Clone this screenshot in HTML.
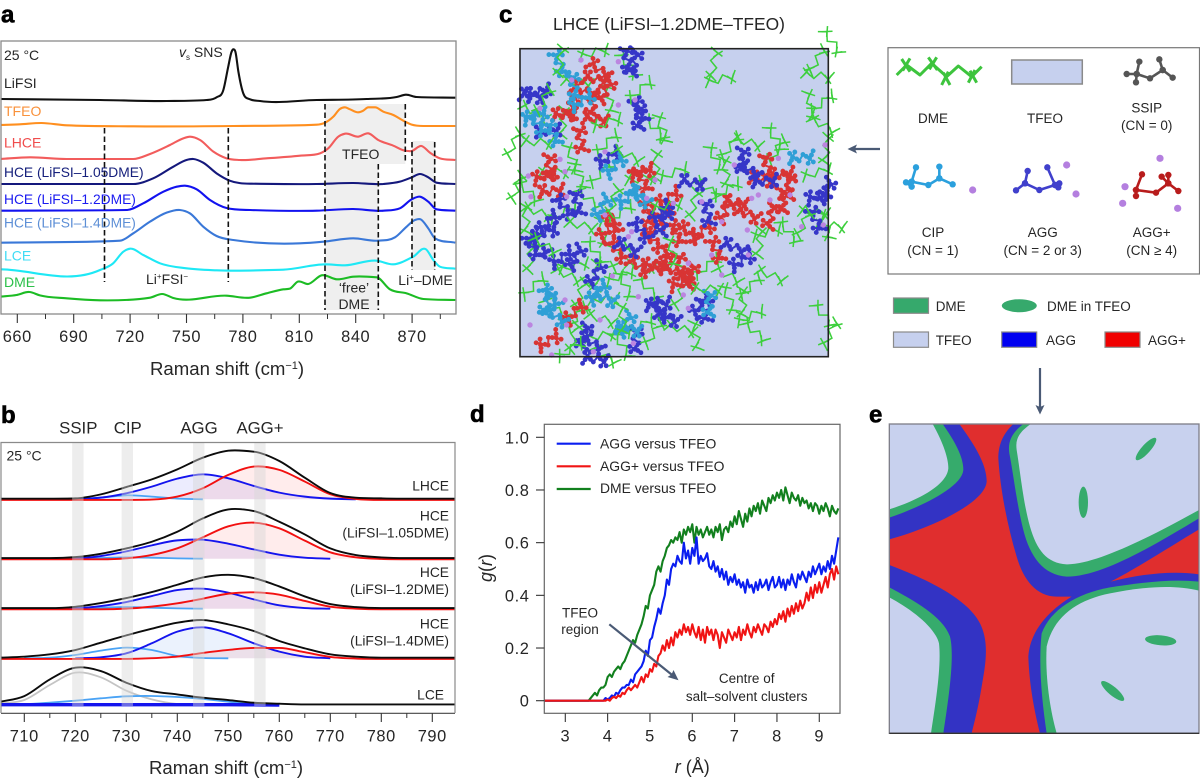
<!DOCTYPE html>
<html>
<head>
<meta charset="utf-8">
<title>LHCE Raman and g(r) figure</title>
<style>
html,body{margin:0;padding:0;background:#fff;}
svg{display:block;font-family:"Liberation Sans",sans-serif;}
text{fill:#262626;}
.tk{font-size:16.4px;letter-spacing:.6px;}
.lb{font-size:13.8px;}
.pl{font-size:24px;font-weight:bold;fill:#000;stroke:#000;stroke-width:.6px;}
</style>
</head>
<body>
<svg id="fig" width="1200" height="779" viewBox="0 0 1200 779" xmlns="http://www.w3.org/2000/svg">
<defs>
<clipPath id="clipA"><rect x="1" y="41" width="455" height="273"/></clipPath>
<clipPath id="clipB"><rect x="1" y="442" width="454" height="271"/></clipPath>
<clipPath id="clipD"><rect x="544" y="424" width="296" height="289"/></clipPath>
<clipPath id="clipE"><rect x="58" y="72" width="929" height="928"/></clipPath>
</defs>

<!-- Panel letters -->
<text class="pl" x="1" y="22.7">a</text>
<text class="pl" x="1" y="423">b</text>
<text class="pl" x="499" y="22.7">c</text>
<text class="pl" x="470" y="422">d</text>
<text class="pl" x="869" y="422.7">e</text>

<!-- PANEL A -->
<g id="panelA">
<rect x="325" y="104" width="80.3" height="60" fill="#efefef"/>
<rect x="325" y="164" width="53.5" height="146" fill="#efefef"/>
<rect x="412" y="141" width="23" height="129" fill="#efefef"/>
<g id="aTraces" clip-path="url(#clipA)"></g>
<g stroke="#111" stroke-width="1.6" stroke-dasharray="5.5 3" fill="none">
<line x1="104.5" y1="128" x2="104.5" y2="282"/>
<line x1="228.3" y1="128" x2="228.3" y2="282"/>
<line x1="325" y1="104" x2="325" y2="310"/>
<line x1="405.3" y1="104" x2="405.3" y2="163"/>
<line x1="378.3" y1="164" x2="378.3" y2="310"/>
<line x1="412" y1="142" x2="412" y2="270"/>
<line x1="434.7" y1="142" x2="434.7" y2="270"/>
</g>
<rect x="1" y="41" width="455" height="273" fill="none" stroke="#8a8a8a" stroke-width="1.3"/>
<g id="aTicks"></g>
<text x="4" y="60" font-size="14">25 °C</text>
<text x="4" y="88" font-size="14">LiFSI</text>
<text x="4" y="116" font-size="14" style="fill:#f9913a">TFEO</text>
<text x="4" y="147.7" font-size="14" style="fill:#f04c4c">LHCE</text>
<text x="4" y="177" font-size="13.8" style="fill:#16207c">HCE (LiFSI–1.05DME)</text>
<text x="4" y="204" font-size="13.8" style="fill:#1a1af0">HCE (LiFSI–1.2DME)</text>
<text x="4" y="227.7" font-size="13.8" style="fill:#5d8fd6">HCE (LiFSI–1.4DME)</text>
<text x="4" y="260.7" font-size="14" style="fill:#3fdcf5">LCE</text>
<text x="4" y="287" font-size="14" style="fill:#2cc04a">DME</text>
<text x="179" y="57" font-size="14"><tspan font-style="italic">v</tspan><tspan font-size="8" dy="3">s</tspan><tspan dy="-3"> SNS</tspan></text>
<text x="360.7" y="159" font-size="14" text-anchor="middle">TFEO</text>
<text x="146" y="284" font-size="14">Li<tspan font-size="8" dy="-5">+</tspan><tspan dy="5">FSI</tspan><tspan font-size="8" dy="-5">−</tspan></text>
<text x="354" y="292.7" font-size="14" text-anchor="middle">‘free’</text>
<text x="354" y="309" font-size="14" text-anchor="middle">DME</text>
<text x="398.3" y="285" font-size="14">Li<tspan font-size="8" dy="-5">+</tspan><tspan dy="5">–DME</tspan></text>
<text x="150" y="375" font-size="18.6">Raman shift (cm<tspan font-size="11" dy="-6">−1</tspan><tspan dy="6">)</tspan></text>
</g>

<!-- PANEL B -->
<g id="panelB">
<g id="bTraces" clip-path="url(#clipB)"></g>
<g id="bBands"></g>
<g id="bTicks"></g>
<path d="M1,713 L1,442.5 L455,442.5 L455,713" fill="none" stroke="#8a8a8a" stroke-width="1.2"/>
<text x="78.3" y="433.3" font-size="16.8" text-anchor="middle">SSIP</text>
<text x="127.7" y="433.3" font-size="16.8" text-anchor="middle">CIP</text>
<text x="199" y="433.3" font-size="16.8" text-anchor="middle">AGG</text>
<text x="260" y="433.3" font-size="16.8" text-anchor="middle">AGG+</text>
<text x="6.5" y="460.7" font-size="14">25 °C</text>
<g text-anchor="end" class="lb">
<text class="lb" x="449" y="490.7">LHCE</text>
<text class="lb" x="449" y="520.7">HCE</text>
<text class="lb" x="449" y="537.7">(LiFSI–1.05DME)</text>
<text class="lb" x="449" y="577">HCE</text>
<text class="lb" x="449" y="594">(LiFSI–1.2DME)</text>
<text class="lb" x="449" y="628.7">HCE</text>
<text class="lb" x="449" y="645.7">(LiFSI–1.4DME)</text>
<text class="lb" x="444" y="699.3">LCE</text>
</g>
<text x="149" y="774" font-size="18.6">Raman shift (cm<tspan font-size="11" dy="-6">−1</tspan><tspan dy="6">)</tspan></text>
</g>

<!-- PANEL C -->
<g id="panelC">
<text x="553" y="30" font-size="17.4">LHCE (LiFSI–1.2DME–TFEO)</text>
<rect x="520" y="48.7" width="308.3" height="308" fill="#c6d0ee"/>
<g id="cMols"></g>
<rect x="520" y="48.7" width="308.3" height="308" fill="none" stroke="#222" stroke-width="1.6"/>
<g stroke="#4a5a75" fill="#4a5a75">
<line x1="852" y1="149" x2="880" y2="149" stroke-width="2.2"/>
<path d="M847.5,149 L857,144.5 L855,149 L857,153.5 Z" stroke="none"/>
</g>
<rect x="888" y="47.7" width="311.5" height="226.3" fill="#fff" stroke="#777" stroke-width="1.2"/>
<rect x="1011.7" y="60" width="70.6" height="24" fill="#c6d0ee" stroke="#8a8a8a" stroke-width="1.5"/>
<g id="legendMols"></g>
<g text-anchor="middle" font-size="13.5">
<text x="933" y="123">DME</text>
<text x="1045" y="123">TFEO</text>
<text x="1146.7" y="112.7">SSIP</text>
<text x="1146.7" y="130">(CN = 0)</text>
<text x="933" y="237">CIP</text>
<text x="933" y="255">(CN = 1)</text>
<text x="1042.7" y="237">AGG</text>
<text x="1042.7" y="255">(CN = 2 or 3)</text>
<text x="1151.7" y="237">AGG+</text>
<text x="1151.7" y="255">(CN ≥ 4)</text>
</g>
<g font-size="13.5">
<rect x="893.5" y="298" width="35" height="15.3" fill="#36a96c" stroke="#8a8a8a" stroke-width="1.2"/>
<text x="935.7" y="311">DME</text>
<ellipse cx="1019.3" cy="305.7" rx="17.5" ry="6.5" fill="#36a96c"/>
<text x="1047" y="311">DME in TFEO</text>
<rect x="893.5" y="332" width="35" height="15.3" fill="#c6d0ee" stroke="#8a8a8a" stroke-width="1.2"/>
<text x="935.7" y="345">TFEO</text>
<rect x="1001.7" y="332" width="35" height="15.3" fill="#0000f0" stroke="#8a8a8a" stroke-width="1.2"/>
<text x="1046" y="345">AGG</text>
<rect x="1105" y="332" width="35" height="15.3" fill="#f00000" stroke="#8a8a8a" stroke-width="1.2"/>
<text x="1148" y="345">AGG+</text>
</g>
<g stroke="#4a5a75" fill="#4a5a75">
<line x1="1040" y1="368" x2="1040" y2="408" stroke-width="2.2"/>
<path d="M1040,414.5 L1035.5,405 L1040,407 L1044.5,405 Z" stroke="none"/>
</g>
</g>

<!-- PANEL D -->
<g id="panelD">
<g id="dTraces" clip-path="url(#clipD)"></g>
<rect x="544.3" y="424.3" width="295.7" height="289" fill="none" stroke="#666" stroke-width="1.2"/>
<g id="dTicks"></g>
<text transform="translate(492,568) rotate(-90)" font-size="18" text-anchor="middle"><tspan font-style="italic">g</tspan>(<tspan font-style="italic">r</tspan>)</text>
<text x="692.3" y="773" font-size="18" text-anchor="middle"><tspan font-style="italic">r</tspan> (Å)</text>
<g font-size="13.9">
<line x1="556.7" x2="590.7" y1="443.7" y2="443.7" stroke="#0a1ef0" stroke-width="2.2"/>
<text x="600" y="448.3">AGG versus TFEO</text>
<line x1="556.7" x2="590.7" y1="466.3" y2="466.3" stroke="#f01414" stroke-width="2.2"/>
<text x="600" y="471">AGG+ versus TFEO</text>
<line x1="556.7" x2="590.7" y1="489" y2="489" stroke="#12801e" stroke-width="2.2"/>
<text x="600" y="493">DME versus TFEO</text>
</g>
<text x="580" y="617.7" font-size="13.5" text-anchor="middle">TFEO</text>
<text x="580" y="634" font-size="13.5" text-anchor="middle">region</text>
<text x="746.7" y="683" font-size="13.5" text-anchor="middle">Centre of</text>
<text x="746.7" y="701" font-size="13.5" text-anchor="middle">salt–solvent clusters</text>
<g>
<line x1="609.3" y1="624.3" x2="674" y2="676.5" stroke="#4a5a75" stroke-width="2.2"/>
<path d="M678.5,680.3 L667.5,677 L671.5,674.5 L673.5,670 Z" fill="#4a5a75"/>
</g>
</g>

<!-- PANEL E -->
<g id="panelE" transform="translate(870,400) scale(0.33333)">
<g clip-path="url(#clipE)">
<rect x="58" y="72" width="929" height="928" fill="#e02e2e"/>
<path fill="#3333c4" d="M58,72 L268,72 C310,130 350,190 350,245 C345,310 180,385 58,418 Z"/>
<path fill="#36ab6c" d="M58,72 L218,72 C255,125 280,170 280,210 C275,265 140,325 58,353 Z"/>
<path fill="#c8d1ee" d="M58,72 L188,72 C215,120 235,170 235,205 C230,260 130,305 58,328 Z"/>
<path fill="#3333c4" d="M430,72 C395,105 385,140 385,175 C390,260 410,370 440,470 C460,540 500,590 560,590 L605,590 C540,630 480,690 475,770 C478,860 495,940 510,1000 L987,1000 L987,523 C900,510 800,525 722,545 C800,505 900,440 987,388 L987,72 Z"/>
<path fill="#36ab6c" d="M460,72 L987,72 L987,355 C860,430 700,530 590,530 C520,525 480,470 460,390 C440,310 430,220 418,160 C412,120 430,95 460,72 Z"/>
<path fill="#c8d1ee" d="M482,72 L987,72 L987,330 C860,400 680,495 590,493 C530,490 500,450 480,380 C460,310 450,210 440,150 C435,115 450,95 482,72 Z"/>
<path fill="#36ab6c" d="M987,545 C900,535 800,550 720,562 C620,580 540,630 515,700 C505,790 515,900 530,1000 L987,1000 Z"/>
<path fill="#c8d1ee" d="M987,572 C900,550 800,565 720,580 C620,600 550,650 530,740 C525,830 540,930 560,1000 L987,1000 Z"/>
<path fill="#3333c4" d="M58,495 C150,530 290,590 330,670 C360,730 345,800 335,860 C325,920 315,960 305,1000 L58,1000 Z"/>
<path fill="#36ab6c" d="M58,562 C130,600 220,650 240,710 C255,770 235,900 220,1000 L58,1000 Z"/>
<path fill="#c8d1ee" d="M58,592 C120,625 195,680 207,730 C215,800 195,920 183,1000 L58,1000 Z"/>
<ellipse cx="828" cy="147" rx="44" ry="13" transform="rotate(-48 828 147)" fill="#36ab6c"/>
<ellipse cx="640" cy="307" rx="14" ry="47" fill="#36ab6c"/>
<ellipse cx="872" cy="721" rx="47" ry="15" transform="rotate(5 872 721)" fill="#36ab6c"/>
<ellipse cx="728" cy="873" rx="44" ry="13" transform="rotate(40 728 873)" fill="#36ab6c"/>
</g>
<rect x="58" y="72" width="929" height="928" fill="none" stroke="#7f7f8a" stroke-width="4"/>
<line x1="58" y1="1000" x2="987" y2="1000" stroke="#333" stroke-width="4"/>
</g>

<script>
/* ---------- Panel a data: wavenumber (cm-1) and stacked intensity (a.u.) ---------- */
const aMajorTicks = [660,690,720,750,780,810,840,870];
const aMinorTicks = [675,705,735,765,795,825,855,885];

const lifsiShift = [650.8,704,739.4,760.7,766,769.6,772.2,774,774.9,776,777.6,780.2,783.8,789.1,819.2,845.8,861.8,866.7,872.4,893];
const lifsiValues = [645,642,639,642,650,672,742,787,794,787,727,662,644,639,642,645,651,658,651,649];

const tfeoShift = [650.8,661.4,672.9,686.2,721.7,774.9,819.2,823.7,828.1,831.6,834.3,837,841.4,844,846.7,850.3,854.7,860,865.3,869.8,876,893];
const tfeoValues = [567,569,573,566,563,564,568,574,592,615,620,614,605,610,620,620,607,597,580,568,564,564];

const lhceShift = [650.8,666.7,686.2,721.7,730.6,741.2,748.3,751.8,757.2,764.3,771.3,778.4,792.6,810.4,821,825.4,830.7,834.3,841.4,846.7,852,860,866.2,869.8,875,879.5,884.8,893];
const lhceValues = [465,470,465,465,480,507,527,532,522,487,467,462,467,475,482,497,532,541,532,542,522,505,490,489,504,484,467,462];

const hce105Shift = [650.8,721.7,732.3,743,750,753.6,758.9,766,773,783.8,819.2,838.7,854.7,863.5,869.8,874.2,878.6,883,893];
const hce105Values = [390,390,407,442,462,465,454,422,400,391,390,393,390,397,410,420,410,394,390];

const hce12Shift = [650.8,718.2,727,737.7,744.8,749.2,755.4,762.5,771.3,783.8,819.2,838.7,854.7,863.5,869.8,874.2,878.6,883,893];
const hce12Values = [310,312,332,367,382,385,374,342,318,312,310,315,310,317,344,352,337,314,310];

const hce14Shift = [650.8,714.6,721.7,730.6,739.4,746.5,751.8,758.9,766,774.9,810.4,822.8,838.7,852,860.9,867.1,871.5,874.5,878.6,882.2,893];
const hce14Values = [214,220,242,277,304,312,302,262,234,222,212,217,227,220,230,262,282,284,257,227,214];

const lceShift = [650.8,704,711,716.4,720,727,735.9,750,766,801.5,823.7,834.3,851.1,860,870.6,877.4,881.3,884.8,893];
const lceValues = [134,132,152,187,196,177,152,137,131,133,149,146,160,149,172,194,162,142,136];

const dmeShift = [650.8,659.6,666.4,672,686.2,704,730.6,737.1,743,771.3,783.8,792.6,801.5,805,809.1,814.8,821.9,829.9,838.7,851.1,858.2,867.1,876,893];
const dmeValues = [52,57,66,56,47,41,49,60,48,55,49,62,74,76,97,90,116,104,112,110,74,62,45,42];

/* ---------- Panel b data: peak heights (a.u.) per wavenumber ---------- */
const bWave = [705,710,715,720,725,730,735,740,745,750,755,760,765,770,775,780,785,790,795];
const bMajorTicks = [710,720,730,740,750,760,770,780,790];
const bMinorTicks = [715,725,735,745,755,765,775,785];
const bSpeciesPositions = [720.5,730.2,744.2,756.2];

const lhceTotal = [0,0,0,1,13,35,58,88,123,144,141,113,63,17,3,1,0,0,0];
const lhceCip = [0,0,0,1,5,12,8,2,0,0,0,0,0,0,0,0,0,0,0];
const lhceAgg = [0,0,0,1,5,18,38,62,75,63,40,20,8,2,0,0,0,0,0];
const lhceAggPlus = [0,0,0,0,0,0,1,10,35,75,100,90,55,17,3,0,0,0,0];

const hce105Total = [0,0,0,3,13,29,49,79,119,146,141,109,71,29,9,2,0,0,0];
const hce105Cip = [0,0,0,0,2,4,3,1,0,0,0,0,0,0,0,0,0,0,0];
const hce105Agg = [0,0,0,1,8,22,40,55,57,45,28,12,3,0,0,0,0,0,0];
const hce105AggPlus = [0,0,0,0,0,3,13,33,66,99,110,93,56,21,6,1,0,0,0];

const hce12Total = [0,0,0,4,15,30,48,70,92,100,90,65,35,12,3,0,0,0,0];
const hce12Cip = [0,0,0,1,3,5,3,1,0,0,0,0,0,0,0,0,0,0,0];
const hce12Agg = [0,0,0,1,8,20,38,56,60,48,28,10,2,0,0,0,0,0,0];
const hce12AggPlus = [0,0,0,0,0,2,8,18,32,47,51,44,25,8,2,0,0,0,0];

const hce14Total = [0,3,10,23,45,67,87,105,113,100,80,50,28,10,3,0,0,0,0];
const hce14Cip = [0,0,2,10,23,32,25,7,1,0,0,0,0,0,0,0,0,0,0];
const hce14Agg = [0,0,0,0,3,15,45,80,93,75,45,20,5,0,0,0,0,0,0];
const hce14AggPlus = [0,0,0,0,0,0,2,7,18,27,33,33,20,6,1,0,0,0,0];

const lceTotal = [7,25,75,110,100,65,40,30,20,13,5,2,0,0,0,0,0,0,0];
const lceSsip = [4,15,60,97,83,43,17,3,0,0,0,0,0,0,0,0,0,0,0];
const lceCip = [0,2,7,13,20,26,27,24,18,10,3,0,0,0,0,0,0,0,0];
const lceAgg = [1,1,1,1,1,1,1,1,1,1,0.5,0,0,0,0,0,0,0,0];
const lceAggPlus = [0,0,0,0,0,0,0,0,0,0,0,0,0,0,0,0,0,0,0];

/* ---------- Panel d data: g(r), r = 3.5 to 9.45 in 0.05 steps ---------- */
const dXTicks = [3,4,5,6,7,8,9];
const dYTicks = [0,0.2,0.4,0.6,0.8,1.0];
const dYLabels = ['0','0.2','0.4','0.6','0.8','1.0'];

const gDme = [
0,0,.01,.02,.03,.02,.04,.05,.05,.06,
.09,.10,.09,.11,.12,.13,.12,.14,.15,.17,
.19,.21,.23,.22,.25,.27,.29,.32,.36,.35,
.40,.42,.44,.49,.51,.49,.53,.55,.58,.59,
.61,.60,.62,.61,.64,.60,.65,.63,.66,.64,
.67,.60,.66,.63,.65,.62,.64,.66,.63,.65,
.62,.66,.64,.67,.61,.65,.66,.64,.68,.66,
.70,.67,.72,.69,.66,.71,.68,.73,.70,.74,
.72,.75,.71,.76,.74,.72,.77,.75,.78,.76,
.79,.77,.80,.76,.81,.78,.75,.79,.77,.76,
.78,.74,.77,.75,.76,.73,.75,.72,.75,.74,
.71,.74,.72,.75,.73,.70,.74,.72,.71,.73];

const gAgg = [
0,0,0,0,0,0,0,0,0,.01,
.005,.01,.02,.015,.03,.025,.04,.05,.05,.06,
.06,.08,.07,.10,.11,.12,.13,.15,.19,.17,
.23,.24,.28,.31,.35,.33,.37,.40,.46,.44,
.50,.52,.51,.55,.53,.52,.60,.54,.57,.52,
.58,.55,.62,.52,.55,.53,.54,.56,.51,.50,
.53,.49,.51,.47,.50,.46,.49,.44,.47,.45,
.48,.44,.46,.43,.45,.41,.46,.43,.44,.41,
.45,.42,.46,.43,.44,.46,.42,.45,.47,.43,
.44,.47,.43,.46,.42,.46,.44,.48,.45,.43,
.48,.46,.49,.47,.45,.49,.47,.51,.48,.50,
.52,.48,.51,.49,.53,.50,.55,.52,.57,.62];

const gAggPlus = [
0,0,0,0,0,0,0,0,0,0,
.005,0,.01,.015,.01,.02,.015,.03,.025,.04,
.05,.04,.05,.06,.05,.07,.09,.07,.10,.09,
.12,.11,.14,.13,.17,.18,.21,.19,.23,.20,
.24,.21,.26,.24,.27,.25,.29,.26,.28,.25,
.29,.26,.24,.28,.23,.27,.22,.28,.25,.27,
.23,.27,.25,.20,.26,.24,.22,.27,.25,.23,
.26,.24,.28,.23,.27,.25,.29,.26,.24,.28,
.26,.29,.27,.25,.29,.28,.26,.30,.28,.31,
.29,.33,.31,.34,.30,.35,.32,.36,.33,.37,
.34,.38,.35,.37,.41,.38,.43,.39,.44,.41,
.45,.41,.44,.47,.43,.48,.50,.46,.51,.48];

/* ---------- Helpers and axis functions ---------- */
const NS = 'http://www.w3.org/2000/svg';
function make(tag, parent, attrs, txt) {
  const n = document.createElementNS(NS, tag);
  for (const k in attrs) n.setAttribute(k, attrs[k]);
  if (txt !== undefined) n.textContent = txt;
  parent.appendChild(n);
  return n;
}
const xA = v => 17.3 + (v - 660) * 1.88;
const yA = a => 314 - a / 3;
const xB = v => 24.3 + (v - 710) * 5.1;
const xD = r => 565.3 + (r - 3) * 42.33;
const yD = g => 700.7 - g * 263.4;

/* rounded cubic through the read points: parabolic tangents, flat beside flat runs,
   limited on monotone stretches so that steep flanks do not ring */
function spline(pts) {
  const n = pts.length;
  const s = [], m = [];
  for (let i = 0; i < n - 1; i++) s[i] = (pts[i + 1][1] - pts[i][1]) / (pts[i + 1][0] - pts[i][0]);
  m[0] = s[0];
  m[n - 1] = s[n - 2];
  for (let i = 1; i < n - 1; i++) {
    if (s[i - 1] === 0 || s[i] === 0) { m[i] = 0; continue; }
    const h0 = pts[i][0] - pts[i - 1][0], h1 = pts[i + 1][0] - pts[i][0];
    let t = (h1 * s[i - 1] + h0 * s[i]) / (h0 + h1);
    if (s[i - 1] * s[i] > 0) {
      const lim = 3 * Math.min(Math.abs(s[i - 1]), Math.abs(s[i]));
      if (Math.abs(t) > lim) t = Math.sign(t) * lim;
    }
    m[i] = t;
  }
  let d = 'M' + pts[0][0].toFixed(2) + ',' + pts[0][1].toFixed(2);
  for (let i = 0; i < n - 1; i++) {
    const h = (pts[i + 1][0] - pts[i][0]) / 3;
    d += ' C' + (pts[i][0] + h).toFixed(2) + ',' + (pts[i][1] + m[i] * h).toFixed(2) + ' ' + (pts[i + 1][0] - h).toFixed(2) + ',' + (pts[i + 1][1] - m[i + 1] * h).toFixed(2) + ' ' + pts[i + 1][0].toFixed(2) + ',' + pts[i + 1][1].toFixed(2);
  }
  return d;
}

/* ---------- Draw panel a ---------- */
const aLayer = document.getElementById('aTraces');
const aSeries = [
  ['lifsi-trace', lifsiShift, lifsiValues, '#111111'],
  ['tfeo-trace', tfeoShift, tfeoValues, '#ff8f1f'],
  ['lhce-trace', lhceShift, lhceValues, '#f25c5c'],
  ['hce-105-trace', hce105Shift, hce105Values, '#14187c'],
  ['hce-12-trace', hce12Shift, hce12Values, '#1212f0'],
  ['hce-14-trace', hce14Shift, hce14Values, '#3a78d8'],
  ['lce-trace', lceShift, lceValues, '#1ee8f5'],
  ['dme-trace', dmeShift, dmeValues, '#1cbc24']
];
aSeries.forEach(s => {
  const pts = s[1].map((w, i) => [xA(w), yA(s[2][i])]);
  const p = make('path', aLayer, {d: spline(pts), fill: 'none', stroke: s[3], 'stroke-width': 2.1, 'stroke-linejoin': 'round'});
  
  
});
const aAxis = document.getElementById('aTicks');
aMajorTicks.forEach(t => {
  const tick = make('line', aAxis, {x1: xA(t), x2: xA(t), y1: 314, y2: 323, stroke: '#333', 'stroke-width': 1.1});
  
  
  const lab = make('text', aAxis, {x: xA(t), y: 342, 'text-anchor': 'middle', 'class': 'tk'}, String(t));
  
  
});
aMinorTicks.forEach(t => {
  const tick = make('line', aAxis, {x1: xA(t), x2: xA(t), y1: 314, y2: 319, stroke: '#333', 'stroke-width': 1});
  
  
});

/* ---------- Draw panel b ---------- */
const bLayer = document.getElementById('bTraces');
const bRowBase = [499.3, 558.7, 608.7, 658.3, 705];
const bRows = [
  {name: 'lhce', total: lhceTotal, cip: lhceCip, agg: lhceAgg, plus: lhceAggPlus},
  {name: 'hce-105', total: hce105Total, cip: hce105Cip, agg: hce105Agg, plus: hce105AggPlus},
  {name: 'hce-12', total: hce12Total, cip: hce12Cip, agg: hce12Agg, plus: hce12AggPlus},
  {name: 'hce-14', total: hce14Total, cip: hce14Cip, agg: hce14Agg, plus: hce14AggPlus},
  {name: 'lce', total: lceTotal, cip: lceCip, agg: lceAgg, plus: lceAggPlus, ssip: lceSsip}
];
bRows.forEach((row, r) => {
  const base = bRowBase[r];
  const yB = a => base - a / 3;
  const toPts = arr => bWave.map((w, i) => [xB(w), yB(arr[i])]);
  /* only the non-zero stretch of a component is stroked, so it does not paint the baseline */
  const nonZero = arr => {
    let a = 0, b = arr.length - 1;
    while (a < b && arr[a + 1] === 0) a++;
    while (b > a && arr[b - 1] === 0) b--;
    return toPts(arr).slice(a, b + 1);
  };
  const g = make('g', bLayer, {});
  
  
  const close = 'L' + xB(795) + ',' + base + ' L' + xB(705) + ',' + base + ' Z';
  const fa = make('path', g, {d: spline(toPts(row.agg)) + close, fill: row.name === 'hce-14' ? 'rgba(60,130,240,.10)' : 'rgba(40,40,240,.09)', stroke: 'none'});
  
  
  const fp = make('path', g, {d: spline(toPts(row.plus)) + close, fill: 'rgba(250,40,40,.09)', stroke: 'none'});
  
  
  if (row.ssip) {
    const ss = make('path', g, {d: spline(nonZero(row.ssip)), fill: 'none', stroke: '#c4c4c4', 'stroke-width': 1.8});
    
    
  }
  const cp = make('path', g, {d: spline(nonZero(row.cip)), fill: 'none', stroke: '#4aa3f5', 'stroke-width': 1.8});
  
  
  const ag = make('path', g, {d: spline(nonZero(row.agg)), fill: 'none', stroke: '#1414ee', 'stroke-width': row.name === 'lce' ? 3.4 : 1.9});
  
  
  const ap = make('path', g, {d: spline(toPts(row.plus)), fill: 'none', stroke: '#f21010', 'stroke-width': 1.9, opacity: row.name === 'lce' ? 0 : 1, transform: 'translate(0,.6)'});
  
  
  const tot = make('path', g, {d: spline(toPts(row.total)), fill: 'none', stroke: '#0c0c0c', 'stroke-width': 1.9, transform: 'translate(0,-.6)'});
  
  
});
const bandLayer = document.getElementById('bBands');
bSpeciesPositions.forEach(v => {
  const b = make('rect', bandLayer, {x: xB(v) - 5.7, y: 443, width: 11.4, height: 263, fill: 'rgba(215,215,215,.45)'});
  
  
});
const bAxis = document.getElementById('bTicks');
const bAxisLine = make('line', bAxis, {x1: 1, x2: 455, y1: 713.3, y2: 713.3, stroke: '#444', 'stroke-width': 1.2});


bMajorTicks.forEach(t => {
  const tick = make('line', bAxis, {x1: xB(t), x2: xB(t), y1: 713.3, y2: 722, stroke: '#333', 'stroke-width': 1.1});
  
  
  const lab = make('text', bAxis, {x: xB(t), y: 741.7, 'text-anchor': 'middle', 'class': 'tk'}, String(t));
  
  
});
bMinorTicks.forEach(t => {
  const tick = make('line', bAxis, {x1: xB(t), x2: xB(t), y1: 713.3, y2: 718, stroke: '#333', 'stroke-width': 1});
  
  
});

/* ---------- Draw panel d ---------- */
const dLayer = document.getElementById('dTraces');
const rValues = gDme.map((_, i) => 3.5 + i * 0.05);
[['dme-rdf-line', gDme, '#12801e'], ['agg-rdf-line', gAgg, '#0a1ef0'], ['aggplus-rdf-line', gAggPlus, '#f01414']].forEach(s => {
  let d = 'M' + xD(2.5).toFixed(2) + ',' + yD(0).toFixed(2);
  s[1].forEach((g, i) => { d += ' L' + xD(rValues[i]).toFixed(2) + ',' + yD(g).toFixed(2); });
  const p = make('path', dLayer, {d: d, fill: 'none', stroke: s[2], 'stroke-width': 2.1, 'stroke-linejoin': 'round'});
  
  
});
const dAxis = document.getElementById('dTicks');
dXTicks.forEach(t => {
  const tick = make('line', dAxis, {x1: xD(t), x2: xD(t), y1: 713.3, y2: 722, stroke: '#333', 'stroke-width': 1.1});
  
  
  const lab = make('text', dAxis, {x: xD(t), y: 741.7, 'text-anchor': 'middle', 'class': 'tk'}, String(t));
  
  
});
dYTicks.forEach((t, i) => {
  const tick = make('line', dAxis, {x1: 536, x2: 544.3, y1: yD(t), y2: yD(t), stroke: '#333', 'stroke-width': 1.1});
  
  
  const lab = make('text', dAxis, {x: 529.5, y: yD(t) + 6, 'text-anchor': 'end', 'class': 'tk'}, dYLabels[i]);
  
  
});

/* ---------- Panel c molecular clutter (illustration, not chart data) ---------- */
const molLayer = document.getElementById('cMols');
const greenSites = [[200,180],[300,160],[400,200],[150,300],[250,250],[340,300],[440,270],[120,340],[200,370],[340,370],[480,390],[60,430],[130,430],[230,480],[340,430],[400,470],[480,500],[540,520],[100,580],[70,560],[180,520],[250,530],[320,520],[130,640],[90,660],[210,640],[280,600],[360,600],[440,540],[660,480],[710,440],[760,430],[690,520],[700,570],[640,570],[600,610],[520,620],[840,420],[850,450],[260,680],[320,700],[380,640],[150,740],[110,770],[240,800],[300,760],[380,770],[440,800],[530,760],[640,800],[700,830],[790,730],[820,700],[880,700],[930,670],[960,640],[990,680],[120,860],[220,830],[300,830],[380,830],[460,870],[560,880],[640,870],[700,900],[770,860],[830,830],[740,910],[770,950],[780,1000],[260,880],[330,900],[390,860],[250,950],[320,960],[380,960],[440,980],[180,930],[240,1010],[320,1010],[380,1040],[480,1000],[560,990],[600,1010],[230,1050],[330,1070],[660,190],[680,240],[1010,130],[970,180],[970,230],[945,320],[985,310],[985,380],[990,450],[970,520],[985,950],[1010,1000],[1010,680],[500,390]];
const redSites = [[300,240],[290,310],[210,340],[260,420],[150,530],[440,540],[520,590],[350,670],[480,690],[580,700],[690,630],[760,640],[830,650],[800,540],[880,560],[480,790],[560,800],[560,850],[660,750],[160,1020],[370,750],[240,940],[310,210],[330,270],[270,270],[230,320],[300,360],[160,500],[170,570],[460,640],[500,640],[540,700],[620,690],[480,720],[340,690],[430,800],[500,780],[540,810],[590,830],[720,610],[860,600],[860,520],[820,500],[440,520]];
const blueSites = [[400,180],[130,280],[430,330],[340,470],[210,620],[160,670],[130,740],[240,770],[400,740],[510,670],[590,550],[740,480],[810,540],[640,640],[970,590],[960,660],[740,780],[500,930],[620,920],[290,1030],[300,820],[720,740],[420,190],[110,290],[430,350],[160,390],[250,610],[150,700],[110,740],[200,770],[440,690],[500,640],[760,510],[990,570],[520,950],[270,1010],[300,1080],[420,1020],[490,910],[630,930]];
const cyanSites = [[190,190],[260,300],[130,370],[360,500],[430,590],[320,620],[330,890],[160,910],[400,990],[640,910],[920,470],[240,260],[120,350],[170,400],[400,590],[170,890],[310,880],[180,950],[390,970]];
const liSites = [[258,180],[370,185],[230,240],[420,300],[370,315],[135,325],[330,455],[195,478],[100,528],[210,515],[480,540],[108,590],[215,590],[330,645],[410,695],[400,710],[455,595],[535,610],[620,605],[718,495],[770,595],[825,600],[885,585],[680,665],[757,690],[920,680],[985,675],[990,435],[850,475],[760,765],[650,765],[580,790],[680,825],[210,900],[430,890],[105,975],[215,975],[315,960],[295,1055],[415,1030],[170,1065],[580,925],[352,828],[565,885],[790,585]];
const chain = [[-20,2],[-13,-5],[-5,2],[3,-5],[11,3],[18,-5]];
const branches = [[[-17,-10],[-9,-1]],[[-9,-10],[-17,-1]],[[7,-2],[14,8]],[[15,-2],[8,8]]];
const chainBall = [[-14,3],[-8,-4],[-2,2],[4,-4],[10,2],[15,-4]];
const branchesBall = [[[-11,-9],[-5,-1]],[[-5,-9],[-11,-1]],[[6,-1],[12,7]],[[12,-1],[6,7]]];
const cx = p => 495 + p[0] / 3, cy = p => p[1] / 3;
function drawGreen(p, i) {
  const g = make('g', molLayer, {transform: 'translate(' + cx(p) + ',' + cy(p) + ') rotate(' + ((i * 67) % 180 - 90) + ') scale(.9)', fill: 'none', stroke: '#3dcf3d', 'stroke-width': 1.7});
  
  
  make('polyline', g, {points: chain.map(c => c.join(',')).join(' ')});
  branches.forEach(b => make('line', g, {x1: b[0][0], y1: b[0][1], x2: b[1][0], y2: b[1][1]}));
}
greenSites.forEach((p, i) => { if (i % 3 !== 0) drawGreen(p, i); });
function ballMol(parent, p, i, col, scale) {
  const g = make('g', parent, {transform: 'translate(' + p[0] + ',' + p[1] + ') rotate(' + ((i * 83) % 360) + ') scale(' + scale + ')', fill: col, stroke: col});
  make('polyline', g, {points: chainBall.map(c => c.join(',')).join(' '), fill: 'none', 'stroke-width': 2.2});
  branchesBall.forEach(b => {
    make('line', g, {x1: b[0][0], y1: b[0][1], x2: b[1][0], y2: b[1][1], 'stroke-width': 2.2});
    make('circle', g, {cx: b[0][0], cy: b[0][1], r: 2.7, stroke: 'none'});
    make('circle', g, {cx: b[1][0], cy: b[1][1], r: 2.7, stroke: 'none'});
  });
  chainBall.forEach(c => make('circle', g, {cx: c[0], cy: c[1], r: 2.7, stroke: 'none'}));
  return g;
}
redSites.forEach((p, i) => {
  const m = ballMol(molLayer, [cx(p), cy(p)], i, '#d83434', .9);
  
  
});
blueSites.forEach((p, i) => {
  const m = ballMol(molLayer, [cx(p), cy(p)], i + 3, '#3636c8', .9);
  
  
});
cyanSites.forEach((p, i) => {
  const m = ballMol(molLayer, [cx(p), cy(p)], i + 5, '#2f9fd6', .9);
  
  
});
greenSites.forEach((p, i) => { if (i % 3 === 0) drawGreen(p, i); });
liSites.forEach(p => {
  const c = make('circle', molLayer, {cx: cx(p), cy: cy(p), r: 2.7, fill: '#bb85e0'});
  
  
});

/* ---------- Legend molecule drawings ---------- */
const lgLayer = document.getElementById('legendMols');
const lx = z => 860 + z / 3, ly = z => 30 + z / 3;
const dmeGlyph = make('g', lgLayer, {fill: 'none', stroke: '#3dc43d', 'stroke-width': 3, 'stroke-linejoin': 'round'});


make('polyline', dmeGlyph, {points: [[110,135],[140,105],[180,135],[215,100],[260,140],[295,108],[335,140],[365,110]].map(p => lx(p[0]) + ',' + ly(p[1])).join(' ')});
[[[125,87],[150,125]],[[150,85],[128,122]],[[205,82],[232,120]],[[230,82],[208,118]],[[245,165],[265,125]],[[270,165],[250,128]],[[325,158],[345,120]],[[350,158],[330,122]]].forEach(b => {
  make('line', dmeGlyph, {x1: lx(b[0][0]), y1: ly(b[0][1]), x2: lx(b[1][0]), y2: ly(b[1][1])});
});
function legendBall(name, atoms, col, r, lis) {
  const g = make('g', lgLayer, {fill: col, stroke: col});
  
  
  make('polyline', g, {points: atoms.map(p => lx(p[0]) + ',' + ly(p[1])).join(' '), fill: 'none', 'stroke-width': 2.6, 'stroke-linejoin': 'round'});
  atoms.forEach(p => make('circle', g, {cx: lx(p[0]), cy: ly(p[1]), r: r, stroke: 'none'}));
  lis.forEach(p => make('circle', g, {cx: lx(p[0]), cy: ly(p[1]), r: 3.6, fill: '#b47fdf', stroke: 'none'}));
}
legendBall('legend-ssip-molecule', [[838,95],[830,132],[800,132],[830,132],[828,157],[830,132],[870,145],[908,120],[898,88],[908,120],[938,143]], '#555', 3.2, []);
legendBall('legend-cip-molecule', [[168,412],[155,455],[138,457],[155,470],[155,455],[205,465],[238,445],[238,410],[238,445],[278,463]], '#2ba0dd', 3.2, [[338,480]]);
legendBall('legend-agg-molecule', [[503,423],[495,460],[468,481],[495,460],[538,480],[585,465],[562,412],[585,465],[598,460],[595,472]], '#4040cc', 3.2, [[620,405],[648,492]]);
legendBall('legend-aggplus-molecule', [[846,433],[828,480],[828,498],[828,480],[888,488],[925,460],[905,440],[925,460],[925,435],[925,460],[955,483]], '#b81c1c', 3.2, [[900,385],[795,470],[788,520],[953,535]]);
</script>
</svg>
</body>
</html>
